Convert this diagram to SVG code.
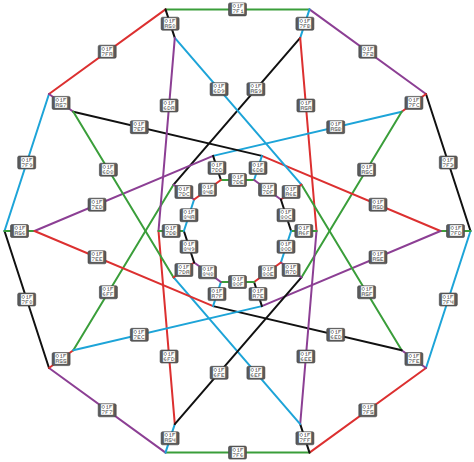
<svg xmlns="http://www.w3.org/2000/svg" width="474" height="462" viewBox="0 0 474 462">
<style>
line{stroke-width:2;stroke-linecap:round}
.g{stroke:#3a9e3a}.p{stroke:#8c3f94}.k{stroke:#111}.c{stroke:#1da4d8}.r{stroke:#dc3030}
.lb rect{fill:#5a5a5a;stroke:#444;stroke-width:0.6}
.lb text{fill:#fff;font-family:"DejaVu Sans",sans-serif;font-size:12px;text-anchor:middle}
</style>
<rect width="474" height="462" fill="#fff"/>
<g id="connectors">
<line class="g" x1="165.5" y1="9.4" x2="309.5" y2="9.4"/>
<line class="p" x1="309.5" y1="9.4" x2="426" y2="94"/>
<line class="k" x1="426" y1="94" x2="470.5" y2="231"/>
<line class="c" x1="470.5" y1="231" x2="426" y2="368"/>
<line class="r" x1="426" y1="368" x2="309.5" y2="452.6"/>
<line class="g" x1="309.5" y1="452.6" x2="165.5" y2="452.6"/>
<line class="p" x1="165.5" y1="452.6" x2="49" y2="368"/>
<line class="k" x1="49" y1="368" x2="4.5" y2="231"/>
<line class="c" x1="4.5" y1="231" x2="49" y2="94"/>
<line class="r" x1="49" y1="94" x2="165.5" y2="9.4"/>
<line class="c" x1="309.5" y1="9.4" x2="300.2" y2="37.9"/>
<line class="r" x1="426" y1="94" x2="401.7" y2="111.7"/>
<line class="g" x1="470.5" y1="231" x2="440.5" y2="231"/>
<line class="p" x1="426" y1="368" x2="401.7" y2="350.3"/>
<line class="k" x1="309.5" y1="452.6" x2="300.2" y2="424.1"/>
<line class="c" x1="165.5" y1="452.6" x2="174.8" y2="424.1"/>
<line class="r" x1="49" y1="368" x2="73.3" y2="350.3"/>
<line class="g" x1="4.5" y1="231" x2="34.5" y2="231"/>
<line class="p" x1="49" y1="94" x2="73.3" y2="111.7"/>
<line class="k" x1="165.5" y1="9.4" x2="174.8" y2="37.9"/>
<line class="k" x1="300.2" y1="37.9" x2="173.6" y2="184.6"/>
<line class="r" x1="300.2" y1="37.9" x2="316.5" y2="231"/>
<line class="c" x1="401.7" y1="111.7" x2="213.1" y2="155.9"/>
<line class="g" x1="401.7" y1="111.7" x2="301.4" y2="277.4"/>
<line class="r" x1="440.5" y1="231" x2="261.9" y2="155.9"/>
<line class="p" x1="440.5" y1="231" x2="261.9" y2="306.1"/>
<line class="g" x1="401.7" y1="350.3" x2="301.4" y2="184.6"/>
<line class="k" x1="401.7" y1="350.3" x2="213.1" y2="306.1"/>
<line class="p" x1="300.2" y1="424.1" x2="316.5" y2="231"/>
<line class="c" x1="300.2" y1="424.1" x2="173.6" y2="277.4"/>
<line class="r" x1="174.8" y1="424.1" x2="158.5" y2="231"/>
<line class="k" x1="174.8" y1="424.1" x2="301.4" y2="277.4"/>
<line class="g" x1="73.3" y1="350.3" x2="173.6" y2="184.6"/>
<line class="c" x1="73.3" y1="350.3" x2="261.9" y2="306.1"/>
<line class="p" x1="34.5" y1="231" x2="213.1" y2="155.9"/>
<line class="r" x1="34.5" y1="231" x2="213.1" y2="306.1"/>
<line class="k" x1="73.3" y1="111.7" x2="261.9" y2="155.9"/>
<line class="g" x1="73.3" y1="111.7" x2="173.6" y2="277.4"/>
<line class="c" x1="174.8" y1="37.9" x2="301.4" y2="184.6"/>
<line class="p" x1="174.8" y1="37.9" x2="158.5" y2="231"/>
<line class="c" x1="261.9" y1="155.9" x2="254.1" y2="180"/>
<line class="r" x1="301.4" y1="184.6" x2="280.9" y2="199.5"/>
<line class="g" x1="316.5" y1="231" x2="291.1" y2="231"/>
<line class="p" x1="301.4" y1="277.4" x2="280.9" y2="262.5"/>
<line class="k" x1="261.9" y1="306.1" x2="254.1" y2="282"/>
<line class="c" x1="213.1" y1="306.1" x2="220.9" y2="282"/>
<line class="r" x1="173.6" y1="277.4" x2="194.1" y2="262.5"/>
<line class="g" x1="158.5" y1="231" x2="183.9" y2="231"/>
<line class="p" x1="173.6" y1="184.6" x2="194.1" y2="199.5"/>
<line class="k" x1="213.1" y1="155.9" x2="220.9" y2="180"/>
<line class="g" x1="220.9" y1="180" x2="254.1" y2="180"/>
<line class="p" x1="254.1" y1="180" x2="280.9" y2="199.5"/>
<line class="k" x1="280.9" y1="199.5" x2="291.1" y2="231"/>
<line class="c" x1="291.1" y1="231" x2="280.9" y2="262.5"/>
<line class="r" x1="280.9" y1="262.5" x2="254.1" y2="282"/>
<line class="g" x1="254.1" y1="282" x2="220.9" y2="282"/>
<line class="p" x1="220.9" y1="282" x2="194.1" y2="262.5"/>
<line class="k" x1="194.1" y1="262.5" x2="183.9" y2="231"/>
<line class="c" x1="183.9" y1="231" x2="194.1" y2="199.5"/>
<line class="r" x1="194.1" y1="199.5" x2="220.9" y2="180"/>
</g>
<g id="labels" class="lb">
<g id="e-o9-o0" transform="translate(237.5,9.4)"><rect x="-9" y="-6.5" width="18" height="13" rx="1.5"/><text y="4">&#x1F7F1;</text></g>
<g id="e-o0-o1" transform="translate(367.8,51.7)"><rect x="-9" y="-6.5" width="18" height="13" rx="1.5"/><text y="4">&#x1F7F2;</text></g>
<g id="e-o1-o2" transform="translate(448.3,162.5)"><rect x="-9" y="-6.5" width="18" height="13" rx="1.5"/><text y="4">&#x1F7F3;</text></g>
<g id="e-o2-o3" transform="translate(448.3,299.5)"><rect x="-9" y="-6.5" width="18" height="13" rx="1.5"/><text y="4">&#x1F7F4;</text></g>
<g id="e-o3-o4" transform="translate(367.8,410.3)"><rect x="-9" y="-6.5" width="18" height="13" rx="1.5"/><text y="4">&#x1F7F5;</text></g>
<g id="e-o4-o5" transform="translate(237.5,452.6)"><rect x="-9" y="-6.5" width="18" height="13" rx="1.5"/><text y="4">&#x1F7F6;</text></g>
<g id="e-o5-o6" transform="translate(107.2,410.3)"><rect x="-9" y="-6.5" width="18" height="13" rx="1.5"/><text y="4">&#x1F7F7;</text></g>
<g id="e-o6-o7" transform="translate(26.7,299.5)"><rect x="-9" y="-6.5" width="18" height="13" rx="1.5"/><text y="4">&#x1F7F8;</text></g>
<g id="e-o7-o8" transform="translate(26.7,162.5)"><rect x="-9" y="-6.5" width="18" height="13" rx="1.5"/><text y="4">&#x1F7F9;</text></g>
<g id="e-o8-o9" transform="translate(107.2,51.7)"><rect x="-9" y="-6.5" width="18" height="13" rx="1.5"/><text y="4">&#x1F7FA;</text></g>
<g id="s-o0" transform="translate(304.9,23.7)"><rect x="-9" y="-6.5" width="18" height="13" rx="1.5"/><text y="4">&#x1F7FB;</text></g>
<g id="s-o1" transform="translate(413.9,102.9)"><rect x="-9" y="-6.5" width="18" height="13" rx="1.5"/><text y="4">&#x1F7FC;</text></g>
<g id="s-o2" transform="translate(455.5,231)"><rect x="-9" y="-6.5" width="18" height="13" rx="1.5"/><text y="4">&#x1F7FD;</text></g>
<g id="s-o3" transform="translate(413.9,359.1)"><rect x="-9" y="-6.5" width="18" height="13" rx="1.5"/><text y="4">&#x1F7FE;</text></g>
<g id="s-o4" transform="translate(304.9,438.3)"><rect x="-9" y="-6.5" width="18" height="13" rx="1.5"/><text y="4">&#x1F7FF;</text></g>
<g id="s-o5" transform="translate(170.1,438.3)"><rect x="-9" y="-6.5" width="18" height="13" rx="1.5"/><text y="4">&#x1FA54;</text></g>
<g id="s-o6" transform="translate(61.1,359.1)"><rect x="-9" y="-6.5" width="18" height="13" rx="1.5"/><text y="4">&#x1FA55;</text></g>
<g id="s-o7" transform="translate(19.5,231)"><rect x="-9" y="-6.5" width="18" height="13" rx="1.5"/><text y="4">&#x1FA56;</text></g>
<g id="s-o8" transform="translate(61.1,102.9)"><rect x="-9" y="-6.5" width="18" height="13" rx="1.5"/><text y="4">&#x1FA57;</text></g>
<g id="s-o9" transform="translate(170.1,23.7)"><rect x="-9" y="-6.5" width="18" height="13" rx="1.5"/><text y="4">&#x1FA58;</text></g>
<g id="c-p0-q8" transform="translate(255.9,89.2)"><rect x="-9" y="-6.5" width="18" height="13" rx="1.5"/><text y="4">&#x1FA59;</text></g>
<g id="c-p0-q2" transform="translate(305.9,105.5)"><rect x="-9" y="-6.5" width="18" height="13" rx="1.5"/><text y="4">&#x1FA5A;</text></g>
<g id="c-p1-q9" transform="translate(335.7,127.2)"><rect x="-9" y="-6.5" width="18" height="13" rx="1.5"/><text y="4">&#x1FA5B;</text></g>
<g id="c-p1-q3" transform="translate(366.6,169.7)"><rect x="-9" y="-6.5" width="18" height="13" rx="1.5"/><text y="4">&#x1FA5C;</text></g>
<g id="c-p2-q0" transform="translate(378,204.7)"><rect x="-9" y="-6.5" width="18" height="13" rx="1.5"/><text y="4">&#x1FA5D;</text></g>
<g id="c-p2-q4" transform="translate(378,257.3)"><rect x="-9" y="-6.5" width="18" height="13" rx="1.5"/><text y="4">&#x1FA5E;</text></g>
<g id="c-p3-q1" transform="translate(366.6,292.3)"><rect x="-9" y="-6.5" width="18" height="13" rx="1.5"/><text y="4">&#x1FA5F;</text></g>
<g id="c-p3-q5" transform="translate(335.7,334.8)"><rect x="-9" y="-6.5" width="18" height="13" rx="1.5"/><text y="4">&#x1F6ED;</text></g>
<g id="c-p4-q2" transform="translate(305.9,356.5)"><rect x="-9" y="-6.5" width="18" height="13" rx="1.5"/><text y="4">&#x1F6EE;</text></g>
<g id="c-p4-q6" transform="translate(255.9,372.8)"><rect x="-9" y="-6.5" width="18" height="13" rx="1.5"/><text y="4">&#x1F6EF;</text></g>
<g id="c-p5-q7" transform="translate(169.1,356.5)"><rect x="-9" y="-6.5" width="18" height="13" rx="1.5"/><text y="4">&#x1F6FD;</text></g>
<g id="c-p5-q3" transform="translate(219.1,372.8)"><rect x="-9" y="-6.5" width="18" height="13" rx="1.5"/><text y="4">&#x1F6FE;</text></g>
<g id="c-p6-q8" transform="translate(108.4,292.3)"><rect x="-9" y="-6.5" width="18" height="13" rx="1.5"/><text y="4">&#x1F6FF;</text></g>
<g id="c-p6-q4" transform="translate(139.3,334.8)"><rect x="-9" y="-6.5" width="18" height="13" rx="1.5"/><text y="4">&#x1F7EC;</text></g>
<g id="c-p7-q9" transform="translate(97,204.7)"><rect x="-9" y="-6.5" width="18" height="13" rx="1.5"/><text y="4">&#x1F7ED;</text></g>
<g id="c-p7-q5" transform="translate(97,257.3)"><rect x="-9" y="-6.5" width="18" height="13" rx="1.5"/><text y="4">&#x1F7EE;</text></g>
<g id="c-p8-q0" transform="translate(139.3,127.2)"><rect x="-9" y="-6.5" width="18" height="13" rx="1.5"/><text y="4">&#x1F7EF;</text></g>
<g id="c-p8-q6" transform="translate(108.4,169.7)"><rect x="-9" y="-6.5" width="18" height="13" rx="1.5"/><text y="4">&#x1F6D8;</text></g>
<g id="c-p9-q1" transform="translate(219.1,89.2)"><rect x="-9" y="-6.5" width="18" height="13" rx="1.5"/><text y="4">&#x1F6D9;</text></g>
<g id="c-p9-q7" transform="translate(169.1,105.5)"><rect x="-9" y="-6.5" width="18" height="13" rx="1.5"/><text y="4">&#x1F6DA;</text></g>
<g id="s-i0" transform="translate(258,167.9)"><rect x="-9" y="-6.5" width="18" height="13" rx="1.5"/><text y="4">&#x1F6DB;</text></g>
<g id="s-i1" transform="translate(291.1,192)"><rect x="-9" y="-6.5" width="18" height="13" rx="1.5"/><text y="4">&#x1FA6E;</text></g>
<g id="s-i2" transform="translate(303.8,231)"><rect x="-9" y="-6.5" width="18" height="13" rx="1.5"/><text y="4">&#x1FA6F;</text></g>
<g id="s-i3" transform="translate(291.1,270)"><rect x="-9" y="-6.5" width="18" height="13" rx="1.5"/><text y="4">&#x1FA7D;</text></g>
<g id="s-i4" transform="translate(258,294.1)"><rect x="-9" y="-6.5" width="18" height="13" rx="1.5"/><text y="4">&#x1FA7E;</text></g>
<g id="s-i5" transform="translate(217,294.1)"><rect x="-9" y="-6.5" width="18" height="13" rx="1.5"/><text y="4">&#x1FA7F;</text></g>
<g id="s-i6" transform="translate(183.9,270)"><rect x="-9" y="-6.5" width="18" height="13" rx="1.5"/><text y="4">&#x1F7DA;</text></g>
<g id="s-i7" transform="translate(171.2,231)"><rect x="-9" y="-6.5" width="18" height="13" rx="1.5"/><text y="4">&#x1F7DB;</text></g>
<g id="s-i8" transform="translate(183.9,192)"><rect x="-9" y="-6.5" width="18" height="13" rx="1.5"/><text y="4">&#x1F7DC;</text></g>
<g id="s-i9" transform="translate(217,167.9)"><rect x="-9" y="-6.5" width="18" height="13" rx="1.5"/><text y="4">&#x1F7DD;</text></g>
<g id="e-i9-i0" transform="translate(237.5,180)"><rect x="-9" y="-6.5" width="18" height="13" rx="1.5"/><text y="4">&#x1F7DE;</text></g>
<g id="e-i0-i1" transform="translate(267.5,189.7)"><rect x="-9" y="-6.5" width="18" height="13" rx="1.5"/><text y="4">&#x1F7DF;</text></g>
<g id="e-i1-i2" transform="translate(286,215.2)"><rect x="-9" y="-6.5" width="18" height="13" rx="1.5"/><text y="4">&#x1F80C;</text></g>
<g id="e-i2-i3" transform="translate(286,246.8)"><rect x="-9" y="-6.5" width="18" height="13" rx="1.5"/><text y="4">&#x1F80D;</text></g>
<g id="e-i3-i4" transform="translate(267.5,272.3)"><rect x="-9" y="-6.5" width="18" height="13" rx="1.5"/><text y="4">&#x1F80E;</text></g>
<g id="e-i4-i5" transform="translate(237.5,282)"><rect x="-9" y="-6.5" width="18" height="13" rx="1.5"/><text y="4">&#x1F80F;</text></g>
<g id="e-i5-i6" transform="translate(207.5,272.3)"><rect x="-9" y="-6.5" width="18" height="13" rx="1.5"/><text y="4">&#x1F848;</text></g>
<g id="e-i6-i7" transform="translate(189,246.8)"><rect x="-9" y="-6.5" width="18" height="13" rx="1.5"/><text y="4">&#x1F849;</text></g>
<g id="e-i7-i8" transform="translate(189,215.2)"><rect x="-9" y="-6.5" width="18" height="13" rx="1.5"/><text y="4">&#x1F84A;</text></g>
<g id="e-i8-i9" transform="translate(207.5,189.7)"><rect x="-9" y="-6.5" width="18" height="13" rx="1.5"/><text y="4">&#x1F84B;</text></g>
</g>
</svg>
